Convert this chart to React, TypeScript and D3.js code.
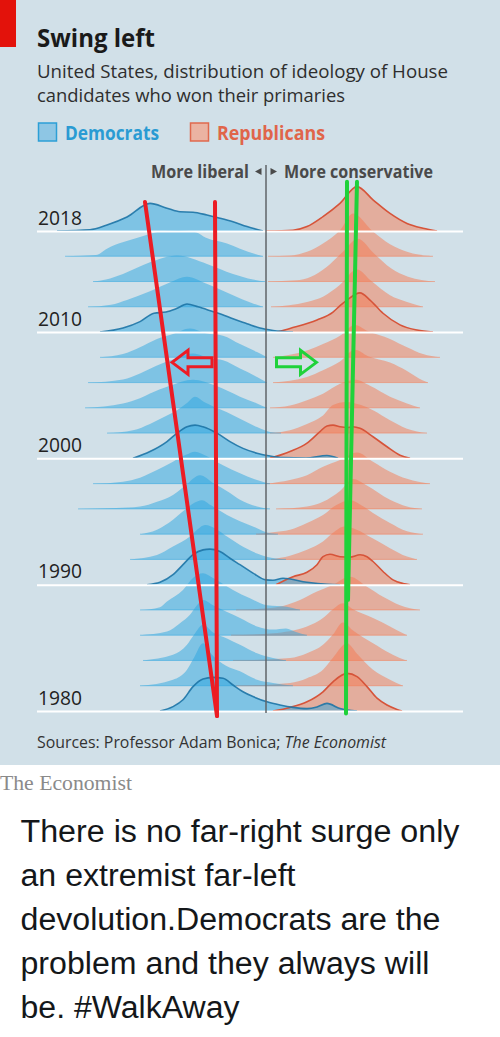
import React from 'react';
import * as d3 from 'd3';

type Pt = [number, number];

const years = [2018, 2016, 2014, 2012, 2010, 2008, 2006, 2004, 2002, 2000, 1998, 1996, 1994, 1992, 1990, 1988, 1986, 1984, 1982, 1980];
const labeledYears = [2018, 2010, 2000, 1990, 1980];

// Democrats: [ideology score, density] per year (same order as years)
const demCurves: Pt[][] = [
  [[-2.09,0],[-1.76,0.03],[-1.59,0.15],[-1.39,0.35],[-1.16,0.69],[-0.99,0.57],[-0.86,0.48],[-0.73,0.47],[-0.59,0.40],[-0.46,0.32],[-0.33,0.23],[-0.19,0.11],[-0.03,0]],
  [[-2.01,0],[-1.7,0.03],[-1.59,0.19],[-1.26,0.48],[-1.1,0.6],[-0.88,0.65],[-0.7,0.6],[-0.6,0.46],[-0.39,0.32],[-0.26,0.19],[-0.1,0.05],[-0.03,0]],
  [[-1.73,0],[-1.6,0.05],[-1.43,0.19],[-1.16,0.48],[-0.89,0.65],[-0.59,0.44],[-0.33,0.19],[-0.13,0.05],[-0.01,0]],
  [[-1.78,0],[-1.55,0.05],[-1.39,0.17],[-1.16,0.39],[-0.95,0.62],[-0.79,0.75],[-0.6,0.58],[-0.33,0.29],[-0.15,0.1],[-0.03,0]],
  [[-1.66,0],[-1.43,0.1],[-1.26,0.26],[-1.12,0.47],[-1.0,0.5],[-0.9,0.58],[-0.79,0.7],[-0.68,0.63],[-0.54,0.52],[-0.44,0.44],[-0.33,0.33],[-0.19,0.21],[-0.06,0.1],[0.07,0.04],[0.27,0]],
  [[-1.66,0],[-1.43,0.08],[-1.26,0.25],[-1.09,0.46],[-0.93,0.58],[-0.76,0.72],[-0.6,0.6],[-0.43,0.54],[-0.26,0.33],[-0.09,0.13],[0.01,0]],
  [[-1.78,0],[-1.43,0.08],[-1.26,0.23],[-1.09,0.43],[-0.93,0.58],[-0.73,0.73],[-0.55,0.6],[-0.43,0.56],[-0.26,0.35],[-0.09,0.14],[0.01,0]],
  [[-1.81,0],[-1.43,0.11],[-1.26,0.24],[-1.16,0.36],[-0.96,0.55],[-0.73,0.7],[-0.5,0.55],[-0.26,0.28],[-0.09,0.11],[0.01,0]],
  [[-1.59,0],[-1.33,0.07],[-1.16,0.23],[-0.99,0.44],[-0.89,0.57],[-0.79,0.75],[-0.71,0.91],[-0.62,0.78],[-0.39,0.52],[-0.26,0.36],[-0.09,0.15],[0.04,0.03],[0.15,0]],
  [[-1.33,0],[-1.16,0.17],[-0.99,0.42],[-0.89,0.63],[-0.79,0.79],[-0.71,0.83],[-0.63,0.79],[-0.49,0.63],[-0.36,0.42],[-0.23,0.25],[-0.09,0.13],[0.04,0.06],[0.17,0.02],[0.4,0.01],[0.61,0.07],[0.72,0]],
  [[-1.73,0],[-1.43,0.05],[-1.26,0.15],[-1.09,0.34],[-0.93,0.55],[-0.8,0.72],[-0.71,0.8],[-0.6,0.7],[-0.43,0.46],[-0.26,0.26],[-0.09,0.09],[0.04,0]],
  [[-1.88,0],[-1.5,0.02],[-1.26,0.06],[-1.09,0.18],[-0.93,0.35],[-0.8,0.6],[-0.66,0.84],[-0.53,0.65],[-0.36,0.4],[-0.26,0.23],[-0.09,0.06],[0.04,0]],
  [[-1.26,0],[-1.09,0.11],[-0.93,0.36],[-0.83,0.57],[-0.72,0.78],[-0.64,0.85],[-0.55,0.72],[-0.39,0.48],[-0.26,0.32],[-0.09,0.15],[0.04,0.02],[0.12,0]],
  [[-1.36,0],[-1.09,0.11],[-0.93,0.32],[-0.76,0.57],[-0.68,0.76],[-0.61,0.86],[-0.5,0.76],[-0.39,0.57],[-0.26,0.36],[-0.09,0.15],[0.1,0.02],[0.2,0]],
  [[-1.19,0],[-1.06,0.06],[-0.93,0.25],[-0.83,0.5],[-0.73,0.75],[-0.63,0.87],[-0.56,0.89],[-0.46,0.83],[-0.36,0.66],[-0.26,0.5],[-0.13,0.29],[0.0,0.12],[0.07,0.11],[0.17,0.16],[0.41,0.06],[0.61,0.01],[0.74,0]],
  [[-1.26,0],[-1.06,0.07],[-0.99,0.21],[-0.83,0.5],[-0.73,0.8],[-0.63,0.92],[-0.53,0.8],[-0.33,0.5],[-0.16,0.29],[0.01,0.12],[0.21,0.08],[0.34,0]],
  [[-1.26,0],[-0.99,0.09],[-0.86,0.3],[-0.76,0.51],[-0.69,0.75],[-0.63,0.88],[-0.53,0.75],[-0.26,0.43],[-0.09,0.22],[0.07,0.14],[0.2,0.17],[0.3,0.08],[0.41,0]],
  [[-1.23,0],[-0.93,0.14],[-0.79,0.39],[-0.72,0.64],[-0.63,0.89],[-0.53,0.7],[-0.39,0.55],[-0.26,0.39],[-0.09,0.18],[0.07,0.06],[0.2,0]],
  [[-1.26,0],[-0.93,0.15],[-0.79,0.4],[-0.72,0.7],[-0.63,1.06],[-0.55,0.8],[-0.4,0.5],[-0.26,0.36],[-0.09,0.15],[0.07,0.07],[0.27,0]],
  [[-1.06,0],[-0.93,0.11],[-0.83,0.28],[-0.73,0.61],[-0.63,0.8],[-0.53,0.84],[-0.43,0.82],[-0.33,0.65],[-0.23,0.48],[-0.13,0.36],[0.01,0.23],[0.14,0.15],[0.27,0.09],[0.41,0.06],[0.51,0.1],[0.61,0.19],[0.74,0.06],[0.91,0]],
];

// Republicans
const repCurves: Pt[][] = [
  [[0.0,0],[0.27,0.02],[0.41,0.11],[0.57,0.36],[0.74,0.69],[0.91,1.11],[1.07,0.78],[1.24,0.44],[1.41,0.19],[1.57,0.07],[1.71,0]],
  [[0.02,0],[0.25,0.02],[0.41,0.11],[0.57,0.32],[0.74,0.65],[0.87,1.07],[1.07,0.62],[1.24,0.3],[1.41,0.11],[1.67,0]],
  [[0.02,0],[0.3,0.03],[0.45,0.12],[0.6,0.35],[0.76,0.72],[0.92,1.07],[1.08,0.7],[1.25,0.33],[1.42,0.12],[1.69,0]],
  [[0.05,0],[0.41,0.12],[0.57,0.25],[0.74,0.55],[0.91,0.93],[1.05,0.65],[1.24,0.29],[1.41,0.12],[1.57,0]],
  [[0.11,0],[0.24,0.09],[0.51,0.3],[0.67,0.5],[0.74,0.66],[0.81,0.8],[0.94,0.98],[1.04,0.8],[1.17,0.47],[1.34,0.18],[1.51,0.05],[1.67,0]],
  [[0.07,0],[0.41,0.17],[0.57,0.33],[0.74,0.54],[0.89,0.81],[1.02,0.65],[1.24,0.46],[1.41,0.25],[1.57,0.08],[1.74,0]],
  [[0.07,0],[0.41,0.14],[0.57,0.31],[0.74,0.53],[0.89,0.82],[1.02,0.66],[1.24,0.5],[1.41,0.29],[1.57,0.05],[1.62,0]],
  [[0.04,0],[0.24,0.06],[0.41,0.19],[0.57,0.35],[0.74,0.6],[0.9,0.7],[1.04,0.55],[1.24,0.28],[1.41,0.11],[1.54,0]],
  [[0.04,0],[0.24,0.07],[0.41,0.23],[0.57,0.44],[0.67,0.7],[0.8,0.78],[0.95,0.7],[1.07,0.57],[1.24,0.32],[1.41,0.11],[1.61,0]],
  [[0.04,0],[0.24,0.17],[0.41,0.38],[0.54,0.67],[0.61,0.81],[0.67,0.83],[0.74,0.79],[0.81,0.77],[0.87,0.79],[0.94,0.75],[1.07,0.54],[1.21,0.29],[1.34,0.08],[1.44,0]],
  [[0.01,0],[0.24,0.09],[0.41,0.21],[0.57,0.42],[0.74,0.59],[0.91,0.78],[1.07,0.55],[1.24,0.3],[1.41,0.12],[1.64,0]],
  [[0.1,0],[0.41,0.06],[0.57,0.18],[0.74,0.45],[0.87,0.75],[1.0,0.6],[1.24,0.23],[1.41,0.06],[1.56,0]],
  [[-0.1,0],[0.07,0.05],[0.24,0.11],[0.41,0.28],[0.57,0.48],[0.7,0.72],[0.84,0.85],[0.97,0.7],[1.07,0.53],[1.24,0.28],[1.41,0.07],[1.57,0]],
  [[0.05,0],[0.24,0.09],[0.41,0.24],[0.57,0.45],[0.7,0.72],[0.78,0.82],[0.9,0.75],[1.07,0.52],[1.24,0.28],[1.41,0.07],[1.51,0]],
  [[0.1,0],[0.27,0.2],[0.41,0.31],[0.51,0.5],[0.57,0.7],[0.64,0.76],[0.74,0.7],[0.84,0.69],[0.94,0.75],[1.01,0.7],[1.07,0.58],[1.17,0.33],[1.27,0.12],[1.37,0.03],[1.44,0]],
  [[-0.3,0],[0.01,0.04],[0.17,0.1],[0.34,0.25],[0.51,0.46],[0.67,0.63],[0.84,0.83],[1.01,0.58],[1.17,0.33],[1.34,0.12],[1.54,0]],
  [[-0.35,0],[0.07,0.05],[0.41,0.22],[0.57,0.43],[0.67,0.65],[0.77,0.8],[0.87,0.65],[1.07,0.43],[1.24,0.22],[1.37,0.05],[1.41,0]],
  [[-0.33,0],[0.24,0.06],[0.41,0.18],[0.57,0.39],[0.67,0.65],[0.77,0.95],[0.87,0.75],[1.07,0.43],[1.24,0.18],[1.37,0.03],[1.41,0]],
  [[-0.3,0],[0.24,0.07],[0.41,0.19],[0.57,0.4],[0.67,0.7],[0.81,1.06],[0.91,0.8],[1.07,0.4],[1.24,0.15],[1.37,0]],
  [[0.07,0],[0.24,0.09],[0.41,0.23],[0.57,0.48],[0.67,0.73],[0.81,0.94],[0.91,0.86],[1.01,0.61],[1.11,0.32],[1.21,0.15],[1.31,0.04],[1.36,0]],
];

// Hand-drawn annotations, in data units [ideology, year]
const redStrokes: [Pt, Pt][] = [
  [[-1.21, 2020.3], [-0.49, 1979.6]],
  [[-0.51, 2020.3], [-0.49, 1979.6]],
];
const greenStrokes: [Pt, Pt][] = [
  [[0.81, 2021.9], [0.80, 1979.8]],
  [[0.91, 2021.9], [0.82, 1988.8]],
];
const redArrow = { tip: [-0.94, 2007.6] as Pt, dir: -1 };
const greenArrow = { tip: [0.505, 2007.6] as Pt, dir: 1 };

const tweetLines = [
  'There is no far-right surge only',
  'an extremist far-left',
  'devolution.Democrats are the',
  'problem and they always will',
  'be. #WalkAway',
];
const tweetWidths = [439, 275, 420, 409, 219];

const W = 500;
const H = 1037;
const BG = '#d1e0e8';
const BLUE_FILL = '#2ca6df';
const RED_FILL = '#f57a52';
const BLUE_LINE = '#1d74a6';
const RED_LINE = '#d6543a';
const SANS = '"Open Sans", "Noto Sans", sans-serif';

const x = d3.scaleLinear().domain([-2, 2]).range([66, 466]);
const yBase = d3.scaleLinear().domain([2018, 1980]).range([231, 711]);
const hScale = d3.scaleLinear().domain([0, 1]).range([0, 40]);

function arrowPath(tip: Pt, dir: number) {
  const tx = x(tip[0]);
  const ty = yBase(tip[1]);
  const head = 16 * -dir;
  const len = 40 * -dir;
  const p = d3.path();
  p.moveTo(tx, ty);
  p.lineTo(tx + head, ty - 12);
  p.lineTo(tx + head, ty - 4.5);
  p.lineTo(tx + len, ty - 4.5);
  p.lineTo(tx + len, ty + 4.5);
  p.lineTo(tx + head, ty + 4.5);
  p.lineTo(tx + head, ty + 12);
  p.closePath();
  return p.toString();
}

export default function App() {
  const rows = years.map((yr, i) => {
    const base = yBase(yr);
    const area = d3.area<Pt>().x(d => x(d[0])).y0(base).y1(d => base - hScale(d[1])).curve(d3.curveMonotoneX);
    const line = d3.line<Pt>().x(d => x(d[0])).y(d => base - hScale(d[1])).curve(d3.curveMonotoneX);
    return { yr, base, dem: demCurves[i], rep: repCurves[i], area, line, outlined: labeledYears.includes(yr) };
  });

  return (
    <svg width={W} height={H} style={{ position: 'absolute', left: 0, top: 0, background: '#fff' }}>
      <rect x={0} y={0} width={W} height={765} fill={BG} />
      <rect x={0} y={0} width={16} height={47} fill="#e3120b" />
      <text x={37} y={47} fontFamily={SANS} fontWeight={700} fontSize={25} fill="#1a1a1a" textLength={118} lengthAdjust="spacingAndGlyphs">Swing left</text>
      <text x={37} y={78} fontFamily={SANS} fontSize={18.5} fill="#2e2e2e" textLength={411} lengthAdjust="spacingAndGlyphs">United States, distribution of ideology of House</text>
      <text x={37} y={102} fontFamily={SANS} fontSize={18.5} fill="#2e2e2e" textLength={308} lengthAdjust="spacingAndGlyphs">candidates who won their primaries</text>

      <rect x={38.5} y={123} width={18} height={18} fill="#8ec6e4" stroke="#2c9fd6" strokeWidth={1.5} />
      <text x={65} y={140} fontFamily={SANS} fontWeight={700} fontSize={19} fill="#2a9bd3" textLength={94} lengthAdjust="spacingAndGlyphs">Democrats</text>
      <rect x={190.5} y={123} width={18} height={18} fill="#ebb3a2" stroke="#e0694e" strokeWidth={1.5} />
      <text x={217} y={140} fontFamily={SANS} fontWeight={700} fontSize={19} fill="#e0654a" textLength={108} lengthAdjust="spacingAndGlyphs">Republicans</text>

      <text x={249} y={178} textAnchor="end" fontFamily={SANS} fontWeight={700} fontSize={18} fill="#4a4a4a" textLength={98} lengthAdjust="spacingAndGlyphs">More liberal</text>
      <path d="M255,171.5 L261.5,168 L261.5,175 Z" fill="#4a4a4a" />
      <path d="M277,171.5 L270.5,168 L270.5,175 Z" fill="#4a4a4a" />
      <text x={284} y={178} fontFamily={SANS} fontWeight={700} fontSize={18} fill="#4a4a4a" textLength={149} lengthAdjust="spacingAndGlyphs">More conservative</text>

      {/* fills */}
      {rows.map(r => (
        <g key={'f' + r.yr}>
          <path d={r.area(r.rep) || ''} fill={RED_FILL} fillOpacity={0.5} />
          <path d={r.area(r.dem) || ''} fill={BLUE_FILL} fillOpacity={0.5} />
          <line x1={x(r.rep[0][0])} x2={x(r.rep[r.rep.length - 1][0])} y1={r.base} y2={r.base} stroke={RED_FILL} strokeOpacity={0.5} strokeWidth={1} />
          <line x1={x(r.dem[0][0])} x2={x(r.dem[r.dem.length - 1][0])} y1={r.base} y2={r.base} stroke={BLUE_FILL} strokeOpacity={0.5} strokeWidth={1} />
        </g>
      ))}
      {/* outlines for labelled years */}
      {rows.filter(r => r.outlined).map(r => (
        <g key={'o' + r.yr}>
          <path d={r.line(r.rep) || ''} fill="none" stroke={RED_LINE} strokeWidth={1.6} />
          <path d={r.line(r.dem) || ''} fill="none" stroke={BLUE_LINE} strokeWidth={1.6} strokeOpacity={0.9} />
        </g>
      ))}
      {/* white baselines + year labels */}
      {rows.filter(r => r.outlined).map(r => (
        <g key={'b' + r.yr}>
          <line x1={37} x2={463} y1={r.base + 0.5} y2={r.base + 0.5} stroke="#fff" strokeWidth={2} />
          <text x={38} y={r.base - 6.5} fontFamily={SANS} fontSize={19.5} fill="#222" textLength={44} lengthAdjust="spacingAndGlyphs">{r.yr}</text>
        </g>
      ))}
      <line x1={x(0)} x2={x(0)} y1={165} y2={713} stroke="#5f6468" strokeWidth={1.5} />

      {/* annotations */}
      {redStrokes.map((s, i) => (
        <line key={'r' + i} x1={x(s[0][0])} y1={yBase(s[0][1])} x2={x(s[1][0])} y2={yBase(s[1][1])} stroke="#ec1c24" strokeWidth={4} strokeLinecap="round" />
      ))}
      {greenStrokes.map((s, i) => (
        <line key={'g' + i} x1={x(s[0][0])} y1={yBase(s[0][1])} x2={x(s[1][0])} y2={yBase(s[1][1])} stroke="#1fd23a" strokeWidth={4} strokeLinecap="round" />
      ))}
      <path d={arrowPath(redArrow.tip, redArrow.dir)} fill="none" stroke="#ec1c24" strokeWidth={3} strokeLinejoin="miter" />
      <path d={arrowPath(greenArrow.tip, greenArrow.dir)} fill="none" stroke="#1fd23a" strokeWidth={3} strokeLinejoin="miter" />

      <text x={37} y={748} fontFamily={SANS} fontSize={16} fill="#333" textLength={349} lengthAdjust="spacingAndGlyphs">
        Sources: Professor Adam Bonica; <tspan fontStyle="italic">The Economist</tspan>
      </text>

      <text x={0} y={790} fontFamily={'"Liberation Serif", "DejaVu Serif", serif'} fontSize={21} fill="#8a8a8a" textLength={132} lengthAdjust="spacingAndGlyphs">The Economist</text>

      {tweetLines.map((t, i) => (
        <text key={'t' + i} x={20.5} y={842 + i * 44} fontFamily={'"Liberation Sans", Arial, sans-serif'} fontSize={31} fill="#14171a" textLength={tweetWidths[i]} lengthAdjust="spacingAndGlyphs">{t}</text>
      ))}
    </svg>
  );
}
